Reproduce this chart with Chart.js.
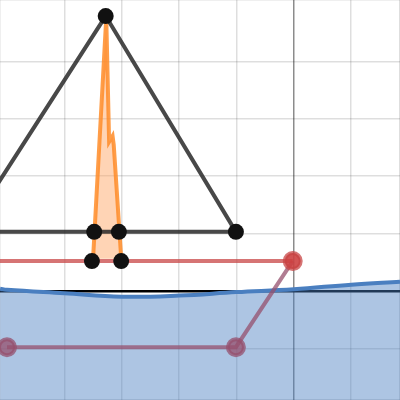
<!DOCTYPE html>
<html>
<head>
<meta charset="utf-8">
<script src="https://cdn.jsdelivr.net/npm/chart.js@4"></script>
<style>html,body{margin:0;padding:0;background:#fff;overflow:hidden}</style>
</head>
<body>
<canvas id="c" width="400" height="400"></canvas>
<script>
// ========== DATA ==========
const waveX = [-0.12, 0, 1, 2, 3, 4, 5, 6, 6.85];
const waveY = [0.04, 0.02, -0.04, -0.1, -0.08, -0.02, 0.03, 0.11, 0.16];
const triX = [-0.7, 1.72, 3.99, 1.95, 1.52, -0.7];
const triY = [1.03, 4.79, 1.03, 1.03, 1.03, 1.03];
const triRadius = [0, 8, 8, 8, 8, 0];
const redX = [-0.5, 4.98];
const redY = [0.52, 0.52];
const purpleX = [4.98, 3.99, 0];
const purpleY = [0.52, -0.98, -0.98];
const flameX = [1.50, 1.73, 1.78, 1.84, 1.86, 1.99];
const flameY = [0.56, 4.76, 2.6, 2.7, 2.55, 0.58];
const dotX = [1.48, 1.99];
const dotY = [0.52, 0.52];

const pts = (xs, ys) => xs.map((x, i) => ({ x, y: ys[i] }));

const gridColor = ctx => {
    const v = ctx.tick.value;
    if (v === 0) return "#000";
    if (v % 5 === 0) return "rgba(0,0,0,0.45)";
    return "rgba(0,0,0,0.13)";
};
const gridWidth = ctx => (ctx.tick.value === 0 ? 2.5 : 1.5);

new Chart(document.getElementById("c").getContext("2d"), {
    type: "scatter",
    data: {
        datasets: [
            {
                data: pts(waveX, waveY),
                showLine: true, tension: 0.4, fill: "start",
                borderColor: "#4a7fc0", backgroundColor: "rgba(74,127,192,0.45)",
                borderWidth: 4, pointRadius: 0, order: 6
            },
            {
                data: pts(purpleX, purpleY),
                showLine: true, borderColor: "rgba(150,80,110,0.75)",
                backgroundColor: "rgba(150,80,110,0.75)",
                borderWidth: 4, pointRadius: [0, 8, 8], order: 5
            },
            {
                data: pts(redX, redY),
                showLine: true, borderColor: "rgba(200,70,70,0.75)",
                backgroundColor: "rgba(205,65,65,0.9)",
                borderWidth: 4, pointRadius: [0, 8], order: 4
            },
            {
                data: pts(flameX, flameY),
                showLine: true, fill: { value: 0.56 },
                borderColor: "rgba(255,140,40,0.85)", backgroundColor: "rgba(255,160,90,0.45)",
                borderWidth: 4, pointRadius: 0, order: 3
            },
            {
                data: pts(triX, triY),
                showLine: true, borderColor: "rgba(40,40,40,0.85)",
                backgroundColor: "#111", pointBorderWidth: 0,
                borderWidth: 4, pointRadius: triRadius, order: 2
            },
            {
                data: pts(dotX, dotY),
                backgroundColor: "#111", pointBorderWidth: 0,
                pointRadius: 8, order: 1
            }
        ]
    },
    options: {
        responsive: false,
        animation: false,
        layout: { padding: 0, autoPadding: false },
        plugins: { legend: { display: false }, tooltip: { enabled: false } },
        scales: {
            x: {
                type: "linear", min: -0.122, max: 6.85,
                ticks: { display: false, stepSize: 1 },
                border: { display: false },
                grid: { color: gridColor, lineWidth: gridWidth, drawTicks: false }
            },
            y: {
                type: "linear", min: -1.9, max: 5.07,
                ticks: { display: false, stepSize: 1 },
                border: { display: false },
                grid: { color: gridColor, lineWidth: gridWidth, drawTicks: false }
            }
        }
    }
});
</script>
</body>
</html>
